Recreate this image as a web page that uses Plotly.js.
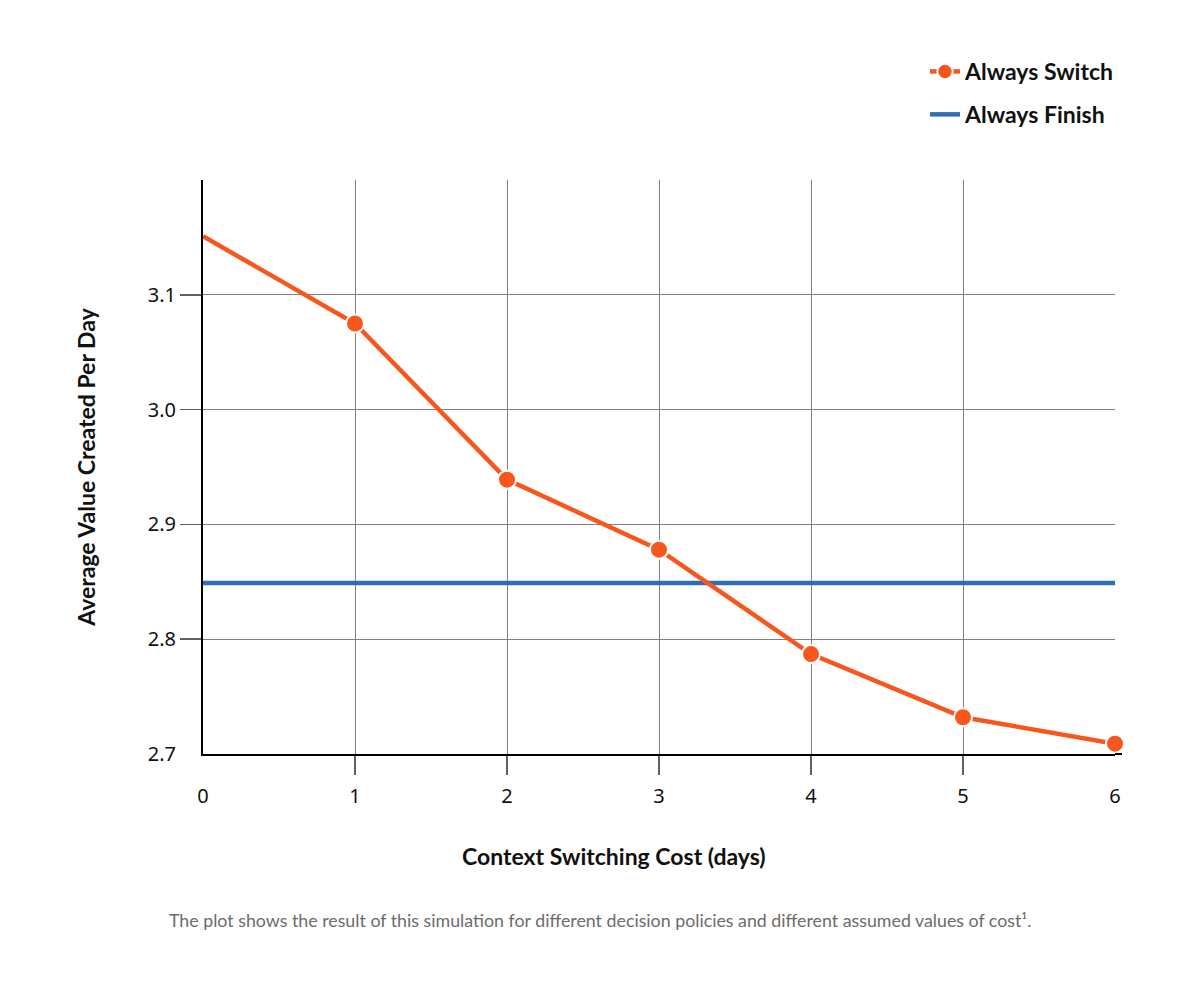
<!DOCTYPE html>
<html>
<head>
<meta charset="utf-8">
<script src="https://cdn.plot.ly/plotly-3.0.1.min.js"></script>
<style>html,body{margin:0;padding:0;background:#fff;}#chart{width:1200px;height:985px;}</style>
</head>
<body>
<div id="chart"></div>
<script>
const costDays = [0, 1, 2, 3, 4, 5, 6];
const alwaysSwitch = [3.151, 3.075, 2.939, 2.878, 2.787, 2.732, 2.709];
const finishX = [0, 6];
const alwaysFinish = [2.849, 2.849];
const yLabelVals = [2.7, 2.8, 2.9, 3.0, 3.1];
const yGridVals = [2.8, 2.9, 3.0, 3.1];
const xLabelVals = [0, 1, 2, 3, 4, 5, 6];
const xGridVals = [1, 2, 3, 4, 5];
const markerSizes = [0, 18, 18, 18, 18, 18, 18];

const orange = '#F7561D';
const blue = '#2F6DB5';
const gridGray = '#808080';
const xRange = [0, 6];
const yRange = [2.7, 3.2];

const traces = [
  {
    x: finishX, y: alwaysFinish, name: 'Always Finish', mode: 'lines',
    line: {color: blue, width: 4.5}, legendrank: 2, legendgroup: 'b'
  },
  {
    x: costDays, y: alwaysSwitch, name: 'Always Switch', mode: 'lines+markers',
    xaxis: 'x2', yaxis: 'y2',
    line: {color: orange, width: 4.5},
    marker: {color: orange, opacity: 1, size: markerSizes, line: {color: '#ffffff', width: 2}},
    cliponaxis: false, legendrank: 1, legendgroup: 'a'
  }
];

const titleFont = {family: 'Lato, sans-serif', size: 23, color: '#111', weight: 'bold'};
const tickFont = {family: 'Noto Sans, sans-serif', size: 20, color: '#111'};

const layout = {
  width: 1200, height: 985,
  margin: {l: 203, r: 85, t: 180, b: 231},
  paper_bgcolor: '#ffffff', plot_bgcolor: '#ffffff',
  font: {family: 'Noto Sans, sans-serif', color: '#111'},
  showlegend: true,
  legend: {
    x: (925 - 203) / 912, y: 1 + (180 - 50) / 574, xanchor: 'left', yanchor: 'top',
    font: titleFont, traceorder: 'grouped', tracegroupgap: 10,
    bgcolor: 'rgba(0,0,0,0)'
  },
  xaxis: {
    range: xRange, tickvals: xGridVals, ticktext: xGridVals.map(() => ''),
    showticklabels: true, showgrid: true, gridcolor: gridGray, gridwidth: 1,
    ticks: 'outside', ticklen: 19, tickcolor: '#606060', tickwidth: 1.5,
    showline: true, linecolor: '#000', linewidth: 2, zeroline: false
  },
  yaxis: {
    range: yRange, tickvals: yGridVals, ticktext: yGridVals.map(() => ''),
    showticklabels: true, showgrid: true, gridcolor: gridGray, gridwidth: 1,
    ticks: 'outside', ticklen: 21, tickcolor: '#606060', tickwidth: 1.5,
    showline: true, linecolor: '#000', linewidth: 2, zeroline: false,
    title: {text: 'Average Value Created Per Day', standoff: 76, font: titleFont}
  },
  xaxis2: {
    range: xRange, overlaying: 'x', anchor: 'y2', side: 'bottom',
    tickvals: xLabelVals, ticktext: xLabelVals.map(String),
    showgrid: false, showline: false, ticks: '', ticklabelstandoff: 28,
    tickfont: tickFont, zeroline: false
  },
  yaxis2: {
    range: yRange, overlaying: 'y', anchor: 'x2', side: 'left',
    tickvals: yLabelVals, ticktext: yLabelVals.map(v => v.toFixed(1)),
    showgrid: false, showline: false, ticks: '', ticklabelstandoff: 26,
    tickfont: tickFont, zeroline: false
  },
  shapes: [{
    type: 'line', xref: 'paper', yref: 'paper', x0: 1, x1: 1 + 7 / 912, y0: 0, y1: 0,
    line: {color: '#000', width: 2}
  }],
  annotations: [
    {
      text: 'Context Switching Cost (days)',
      xref: 'paper', yref: 'paper', x: (614 - 203) / 912, y: -(856 - 754) / 574,
      xanchor: 'center', yanchor: 'middle', showarrow: false, font: titleFont
    },
    {
      text: 'The plot shows the result of this simulation for different decision policies and different assumed values of cost¹.',
      xref: 'paper', yref: 'paper', x: (600 - 203) / 912, y: -(920 - 754) / 574,
      xanchor: 'center', yanchor: 'middle', showarrow: false,
      font: {family: 'Lato, sans-serif', size: 17.8, color: '#6b6b6b'}
    }
  ]
};

Plotly.newPlot('chart', traces, layout, {displayModeBar: false, staticPlot: true});
</script>
</body>
</html>
